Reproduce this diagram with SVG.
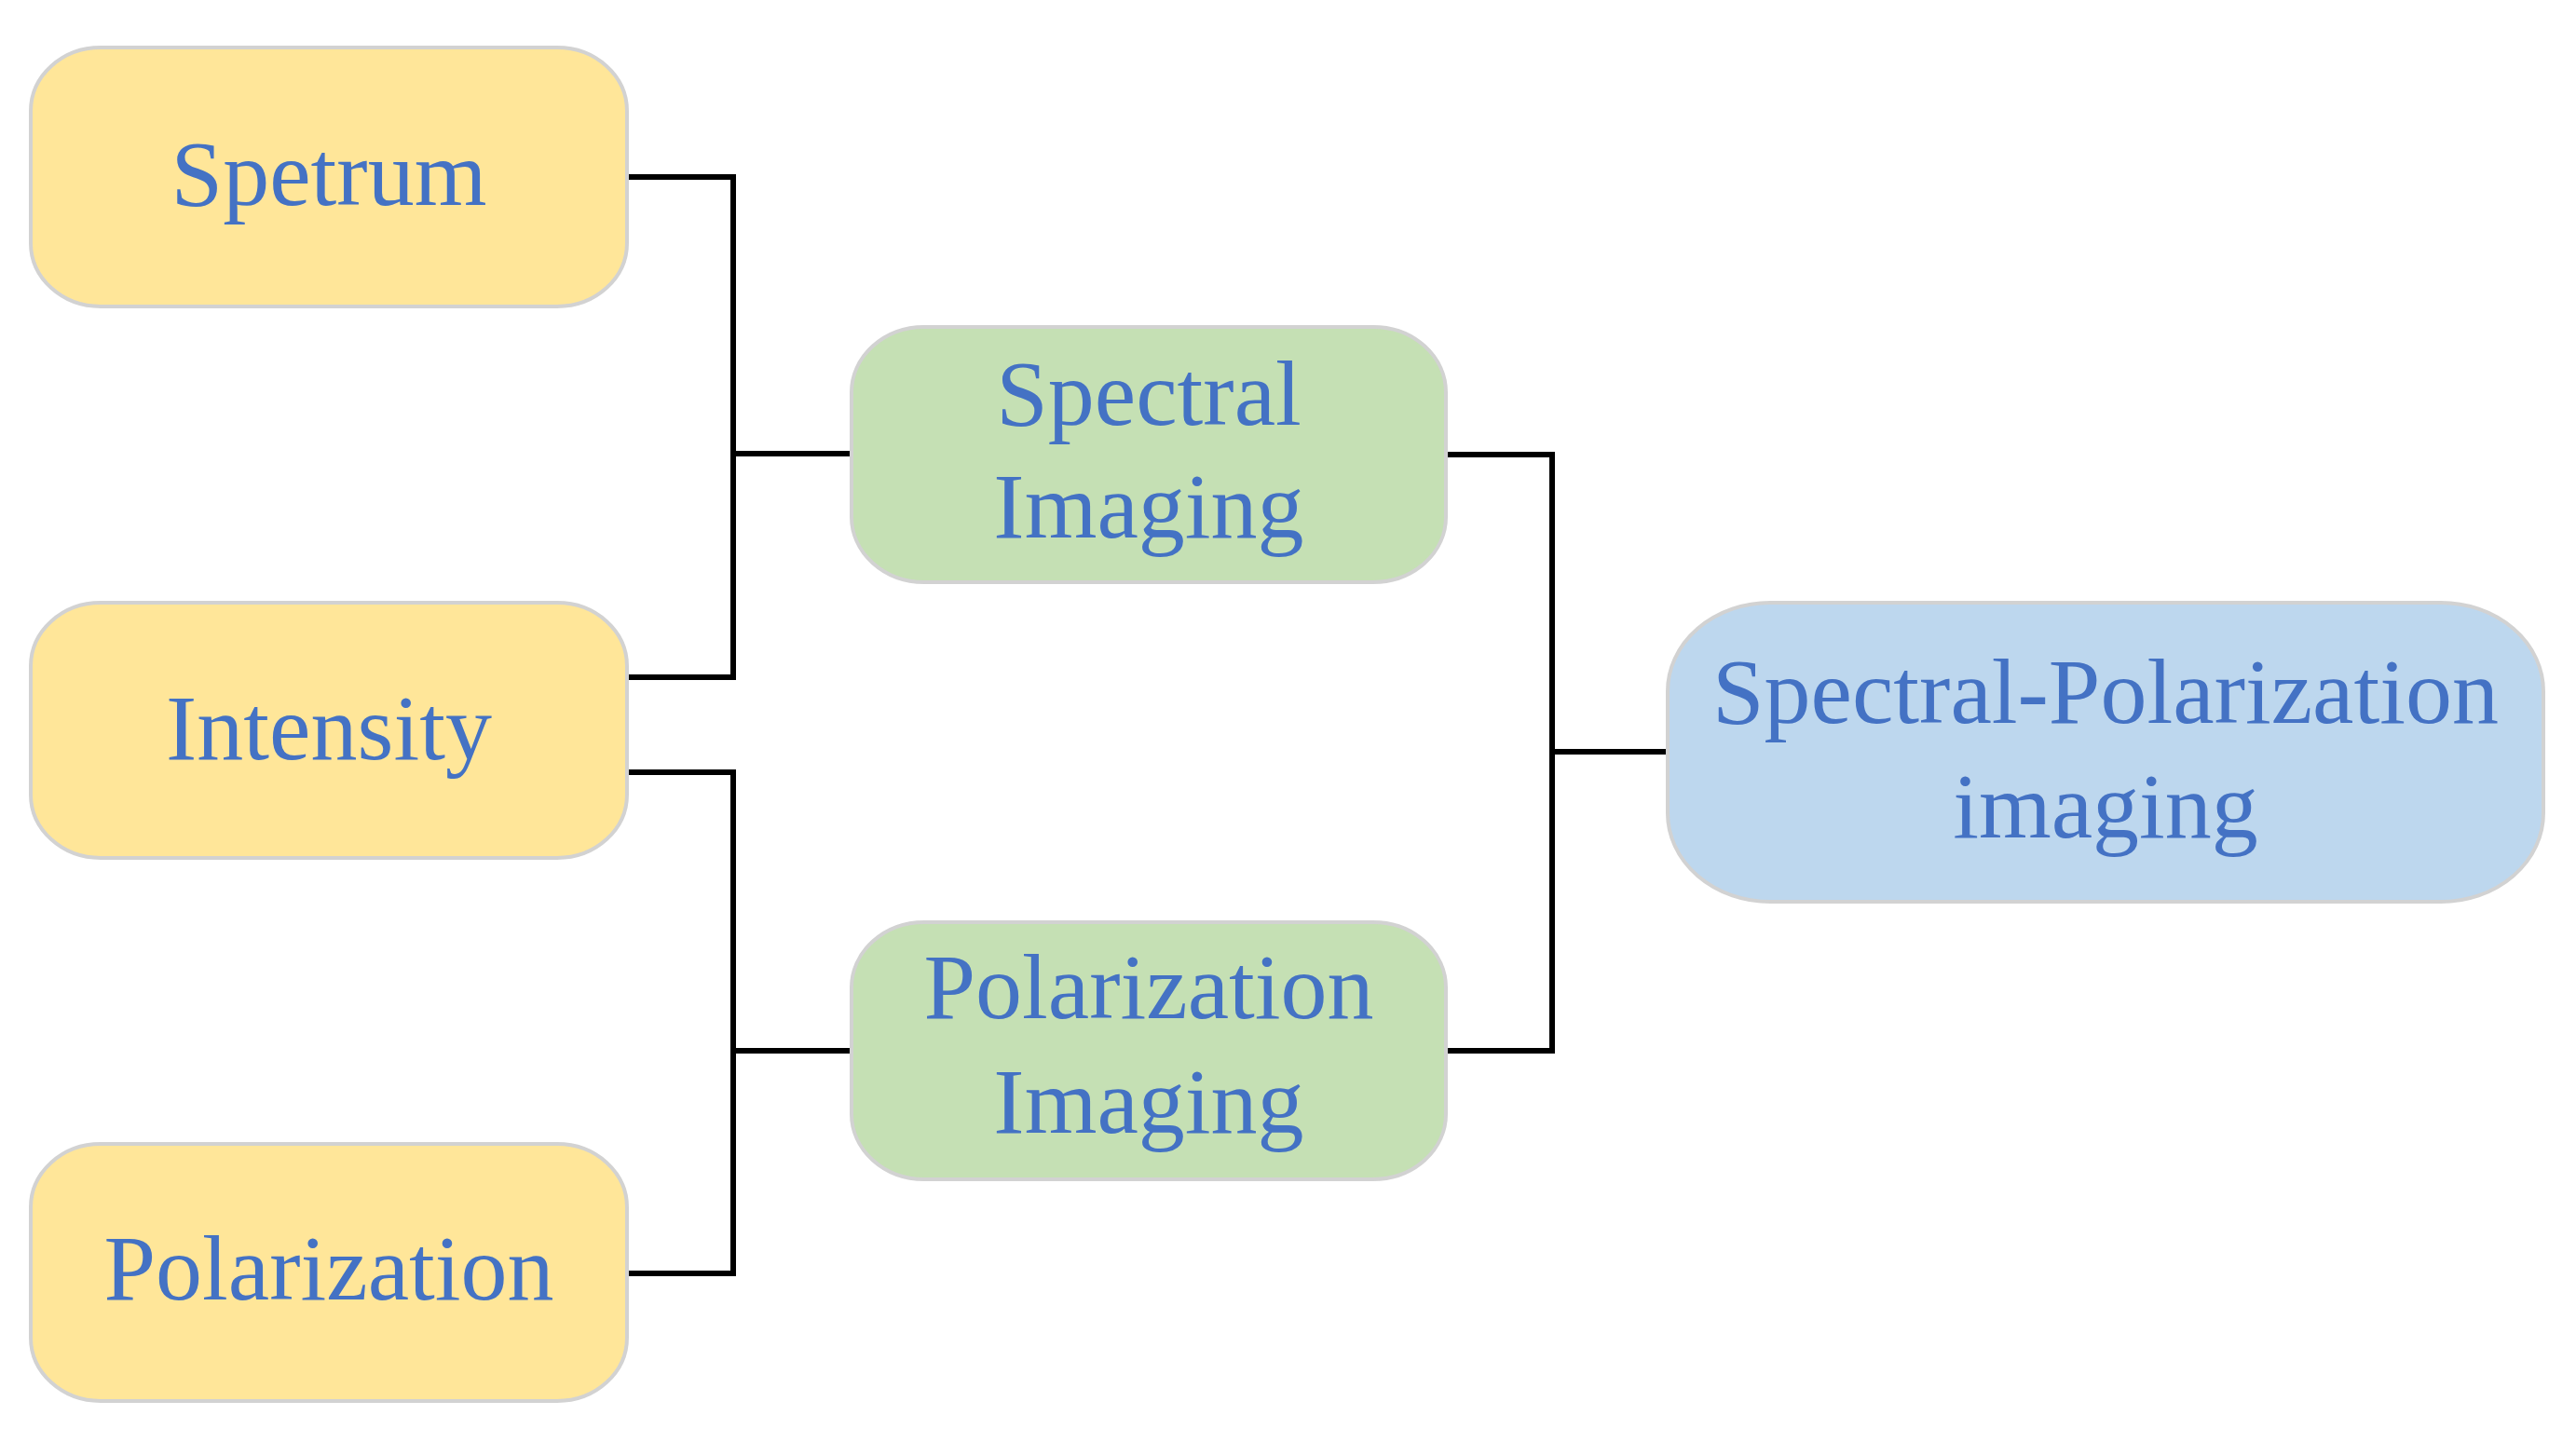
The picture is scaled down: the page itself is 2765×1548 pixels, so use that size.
<svg xmlns="http://www.w3.org/2000/svg" width="2765" height="1548" viewBox="0 0 2765 1548">
<style>
.box{stroke:#d2d2d2;stroke-width:4}
.y{fill:#FFE699}.g{fill:#C5E0B4}.b{fill:#BDD7EE}
.t{font-family:"Liberation Serif","Times New Roman",serif;font-size:100px;fill:#4472C4;text-anchor:middle}
.c{fill:none;stroke:#000;stroke-width:6;stroke-linejoin:miter;stroke-linecap:square}
</style>
<rect width="2765" height="1548" fill="#fff"/>
<g id="connectors">
<path class="c" d="M676,190 H787 V727 H673"/>
<path class="c" d="M787,487 H912"/>
<path class="c" d="M673,829 H787 V1367 H676"/>
<path class="c" d="M787,1128 H912"/>
<path class="c" d="M1555,488 H1666 V1128 H1555"/>
<path class="c" d="M1666,807 H1790"/>
</g>
<g id="spetrum">
<rect class="box y" x="33" y="51" width="640" height="278" rx="75" ry="68"/>
<text class="t" x="353" y="220">Spetrum</text>
</g>
<g id="intensity">
<rect class="box y" x="33" y="647" width="640" height="274" rx="75" ry="68"/>
<text class="t" x="353" y="815">Intensity</text>
</g>
<g id="polarization">
<rect class="box y" x="33" y="1228" width="640" height="276" rx="75" ry="68"/>
<text class="t" x="353" y="1395">Polarization</text>
</g>
<g id="spectral-imaging">
<rect class="box g" x="914" y="351" width="638" height="274" rx="78" ry="70"/>
<text class="t" x="1233" y="456">Spectral</text>
<text class="t" x="1233" y="577">Imaging</text>
</g>
<g id="polarization-imaging">
<rect class="box g" x="914" y="990" width="638" height="276" rx="78" ry="70"/>
<text class="t" x="1233" y="1093">Polarization</text>
<text class="t" x="1233" y="1216">Imaging</text>
</g>
<g id="spectral-polarization-imaging">
<rect class="box b" x="1790" y="647" width="940" height="321" rx="110" ry="95"/>
<text class="t" x="2260" y="776">Spectral-Polarization</text>
<text class="t" x="2260" y="899">imaging</text>
</g>
</svg>
